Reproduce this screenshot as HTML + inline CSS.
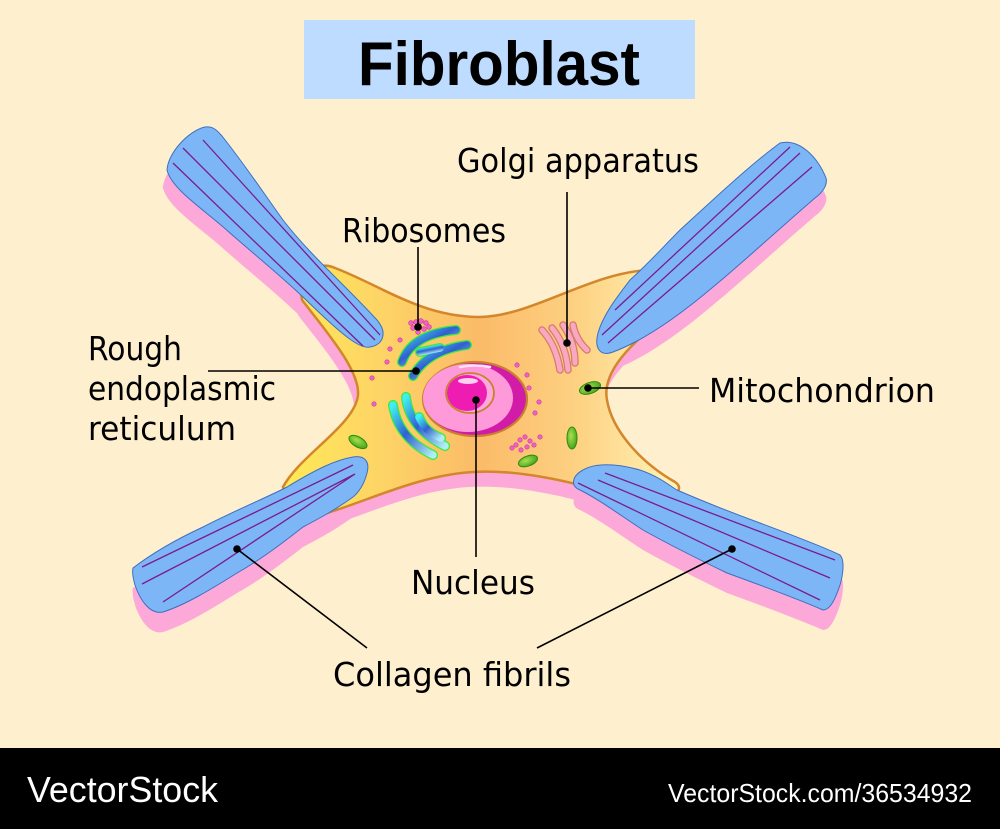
<!DOCTYPE html>
<html><head><meta charset="utf-8"><style>
html,body{margin:0;padding:0;background:#FEEFCF;}
svg{display:block;}
</style></head><body>
<svg width="1000" height="829" viewBox="0 0 1000 829" xmlns="http://www.w3.org/2000/svg">
<defs>
<linearGradient id="body" x1="280" y1="0" x2="680" y2="0" gradientUnits="userSpaceOnUse">
<stop offset="0" stop-color="#FFEA55"/>
<stop offset="0.25" stop-color="#FDD466"/>
<stop offset="0.5" stop-color="#FBBB68"/>
<stop offset="0.75" stop-color="#FDD283"/>
<stop offset="1" stop-color="#FFF5BA"/>
</linearGradient>
<linearGradient id="rer" x1="0" y1="0" x2="1" y2="1">
<stop offset="0" stop-color="#40F0F0"/>
<stop offset="0.45" stop-color="#3060D0"/>
<stop offset="1" stop-color="#B0EEF5"/>
</linearGradient>
<radialGradient id="mito" cx="0.4" cy="0.4" r="0.7">
<stop offset="0" stop-color="#A8E050"/>
<stop offset="1" stop-color="#3C9E14"/>
</radialGradient>
<path id="bodyP" d="M 300,282 C 310,268 322,262 335,268 C 380,285 420,316 477,317 C 530,318 590,272 650,270 C 670,270 690,290 690,300 C 670,320 648,330 640,338 C 618,358 603,380 607,400 C 612,430 640,462 675,482 C 690,492 660,505 640,505 C 620,500 600,488 580,485 C 540,475 505,470 473,472 C 420,475 370,500 327,513 C 310,518 285,505 283,487 C 300,455 355,425 358,395 C 360,370 325,330 302,300 Z"/>
<path id="f1" d="M 167,170 C 168,152 190,130 205,127 C 212,126 216,129 222,136 C 245,165 265,195 283,220 C 310,255 345,285 377,320 C 388,333 383,345 370,347 C 360,349 345,338 303,297 C 280,275 255,255 230,233 C 205,210 172,190 167,170 Z"/>
<path id="f2" d="M 780,143 C 800,138 818,158 826,178 C 828,185 822,193 815,198 C 780,228 740,265 713,287 C 680,315 645,340 613,352 C 600,357 594,348 598,333 C 603,315 617,297 630,280 C 650,262 665,245 680,230 C 715,198 750,165 780,143 Z"/>
<path id="f3" d="M 133,568 C 150,555 175,540 203,527 C 240,508 268,497 287,487 C 315,470 335,460 353,457 C 365,455 370,462 367,473 C 364,485 358,493 353,497 C 335,510 320,518 303,527 C 280,545 260,560 237,573 C 210,590 185,605 163,612 C 150,615 140,600 135,585 C 133,578 132,572 133,568 Z"/>
<path id="f4" d="M 583,470 C 595,463 615,463 640,470 C 660,477 670,486 677,490 C 700,500 730,512 760,523 C 800,538 830,550 840,555 C 845,560 843,575 840,585 C 835,600 830,610 823,610 C 800,600 760,585 727,573 C 700,560 670,545 643,530 C 620,515 600,500 580,490 C 570,486 572,476 583,470 Z"/>
</defs>

<rect x="0" y="0" width="1000" height="829" fill="#FEEFCF"/>

<!-- title -->
<rect x="304" y="20" width="391" height="79" fill="#BDDCFF"/>
<text x="358" y="85" font-family="'Liberation Sans', 'DejaVu Sans', sans-serif" font-weight="bold" font-size="62" textLength="282" lengthAdjust="spacingAndGlyphs" fill="#000">Fibroblast</text>

<!-- shadows -->
<g fill="#FCA9D9">
<use href="#bodyP" transform="translate(-4,15)"/>
<use href="#f1" transform="translate(-4,18)"/>
<use href="#f2" transform="translate(0,18)"/>
<use href="#f3" transform="translate(0,20)"/>
<use href="#f4" transform="translate(0,20)"/>
</g>

<!-- cell body -->
<use href="#bodyP" fill="url(#body)" stroke="#D4862A" stroke-width="2.5"/>

<!-- ribosome dots -->
<g fill="#F060C8" stroke="#C83A98" stroke-width="0.6">
<circle cx="413" cy="328" r="2.4"/><circle cx="416" cy="322" r="2.4"/><circle cx="421" cy="321" r="2.4"/><circle cx="426" cy="323" r="2.4"/><circle cx="424" cy="329" r="2.4"/><circle cx="418" cy="332" r="2.4"/><circle cx="429" cy="327" r="2.4"/><circle cx="411" cy="323" r="2.4"/>
<circle cx="400" cy="340" r="2.2"/><circle cx="390" cy="349" r="2.2"/><circle cx="387" cy="362" r="2.2"/><circle cx="372" cy="378" r="2.2"/><circle cx="374" cy="404" r="2.2"/>
<circle cx="517" cy="365" r="2.2"/><circle cx="527" cy="375" r="2.2"/><circle cx="529" cy="388" r="2.2"/><circle cx="539" cy="402" r="2.2"/><circle cx="535" cy="413" r="2.2"/>
<circle cx="516" cy="445" r="2.2"/><circle cx="520" cy="440" r="2.2"/><circle cx="525" cy="437" r="2.2"/><circle cx="530" cy="441" r="2.2"/><circle cx="527" cy="447" r="2.2"/><circle cx="521" cy="450" r="2.2"/><circle cx="534" cy="445" r="2.2"/><circle cx="540" cy="437" r="2.2"/><circle cx="512" cy="448" r="2.2"/>
</g>

<!-- RER -->
<g fill="none" stroke-linecap="round">
<g stroke="#3CEB3C" stroke-width="10">
<path d="M 402,362 Q 412,334 456,330"/>
<path d="M 413,376 Q 428,350 467,345"/>
<path d="M 420,352 L 440,348"/>
<path d="M 393,405 Q 398,438 433,455"/>
<path d="M 406,397 Q 409,428 445,446"/>
<path d="M 419,417 Q 425,432 441,438"/>
</g>
<g stroke="url(#rer)" stroke-width="7.5">
<path d="M 402,362 Q 412,334 456,330"/>
<path d="M 413,376 Q 428,350 467,345"/>
<path d="M 420,352 L 440,348"/>
<path d="M 393,405 Q 398,438 433,455"/>
<path d="M 406,397 Q 409,428 445,446"/>
<path d="M 419,417 Q 425,432 441,438"/>
</g>
</g>

<!-- Golgi -->
<g fill="none" stroke-linecap="round">
<g stroke="#D77A6A" stroke-width="7.5">
<path d="M 542,330 Q 556,345 560,370"/>
<path d="M 552,328 Q 566,345 568,370"/>
<path d="M 563,325 Q 575,342 575,363"/>
<path d="M 573,325 Q 576,340 587,350"/>
</g>
<g stroke="#F8A8C0" stroke-width="5">
<path d="M 542,330 Q 556,345 560,370"/>
<path d="M 552,328 Q 566,345 568,370"/>
<path d="M 563,325 Q 575,342 575,363"/>
<path d="M 573,325 Q 576,340 587,350"/>
</g>
</g>

<!-- mitochondria -->
<g fill="url(#mito)" stroke="#2E8A10" stroke-width="1">
<ellipse cx="590" cy="388" rx="11" ry="5.5" transform="rotate(-20 590 388)"/>
<ellipse cx="572" cy="438" rx="5" ry="11"/>
<ellipse cx="528" cy="461" rx="10" ry="5" transform="rotate(-20 528 461)"/>
<ellipse cx="358" cy="442" rx="10" ry="5" transform="rotate(30 358 442)"/>
</g>

<!-- nucleus -->
<ellipse cx="475" cy="399" rx="52" ry="37" fill="#D21CA8" stroke="#C8822E" stroke-width="2.2"/>
<ellipse cx="468" cy="398" rx="45" ry="34" fill="#FF9ADA"/>
<ellipse cx="470" cy="393" rx="24" ry="20" fill="#FFA8DE" stroke="#C8822E" stroke-width="1.8"/>
<ellipse cx="467" cy="393" rx="20" ry="18" fill="#EE1CB0"/>
<ellipse cx="468" cy="381" rx="10" ry="3" fill="#FFD0F0"/>
<path d="M 460,367 Q 475,364 490,367" stroke="#FFE0F5" stroke-width="2.5" fill="none" stroke-linecap="round"/>

<!-- fibrils -->
<g fill="#7DB6F7" stroke="#3E6FBF" stroke-width="1">
<use href="#f1"/><use href="#f2"/><use href="#f3"/><use href="#f4"/>
</g>
<g stroke="#7B1B8C" stroke-width="1.3" fill="none">
<path d="M 203,140 L 380,335"/><path d="M 183,148 L 375,340"/><path d="M 173,163 L 363,346"/>
<path d="M 790,147 L 615,310"/><path d="M 800,153 L 602,335"/><path d="M 812,167 L 608,343"/>
<path d="M 142,567 L 353,465"/><path d="M 142,584 L 355,474 L 163,602"/>
<path d="M 605,473 L 835,560"/><path d="M 598,480 L 830,578"/><path d="M 578,483 L 820,600"/>
</g>

<!-- leaders -->
<g stroke="#000" stroke-width="1.6" fill="none">
<path d="M 567,192 L 567,343"/>
<path d="M 418,247 L 418,327"/>
<path d="M 208,371 L 416,371"/>
<path d="M 588,388 L 699,388"/>
<path d="M 476,400 L 476,557"/>
<path d="M 237,549 L 367,648"/>
<path d="M 732,549 L 537,648"/>
</g>
<g fill="#000">
<circle cx="567" cy="343" r="3.8"/><circle cx="418" cy="327" r="3.8"/><circle cx="416" cy="371" r="3.8"/>
<circle cx="588" cy="388" r="3.8"/><circle cx="476" cy="400" r="3.8"/><circle cx="237" cy="549" r="3.8"/><circle cx="732" cy="549" r="3.8"/>
</g>

<!-- labels -->
<g font-family="'DejaVu Sans', 'Liberation Sans', sans-serif" font-size="33" fill="#000">
<text x="457" y="172" textLength="242" lengthAdjust="spacingAndGlyphs">Golgi apparatus</text>
<text x="342" y="242" textLength="164" lengthAdjust="spacingAndGlyphs">Ribosomes</text>
<text x="88" y="360" textLength="94" lengthAdjust="spacingAndGlyphs">Rough</text>
<text x="88" y="400" textLength="188" lengthAdjust="spacingAndGlyphs">endoplasmic</text>
<text x="88" y="440" textLength="148" lengthAdjust="spacingAndGlyphs">reticulum</text>
<text x="709" y="402" textLength="226" lengthAdjust="spacingAndGlyphs">Mitochondrion</text>
<text x="411" y="594" textLength="124" lengthAdjust="spacingAndGlyphs">Nucleus</text>
<text x="333" y="686" textLength="238" lengthAdjust="spacingAndGlyphs">Collagen fibrils</text>
</g>

<!-- footer -->
<rect x="0" y="748" width="1000" height="81" fill="#000"/>
<text x="27" y="802" font-family="'Liberation Sans', sans-serif" font-size="36" fill="#fff" textLength="191" lengthAdjust="spacingAndGlyphs">VectorStock</text>
<text x="668" y="802" font-family="'Liberation Sans', sans-serif" font-size="26" fill="#fff" textLength="304" lengthAdjust="spacingAndGlyphs">VectorStock.com/36534932</text>
</svg>
</body></html>
